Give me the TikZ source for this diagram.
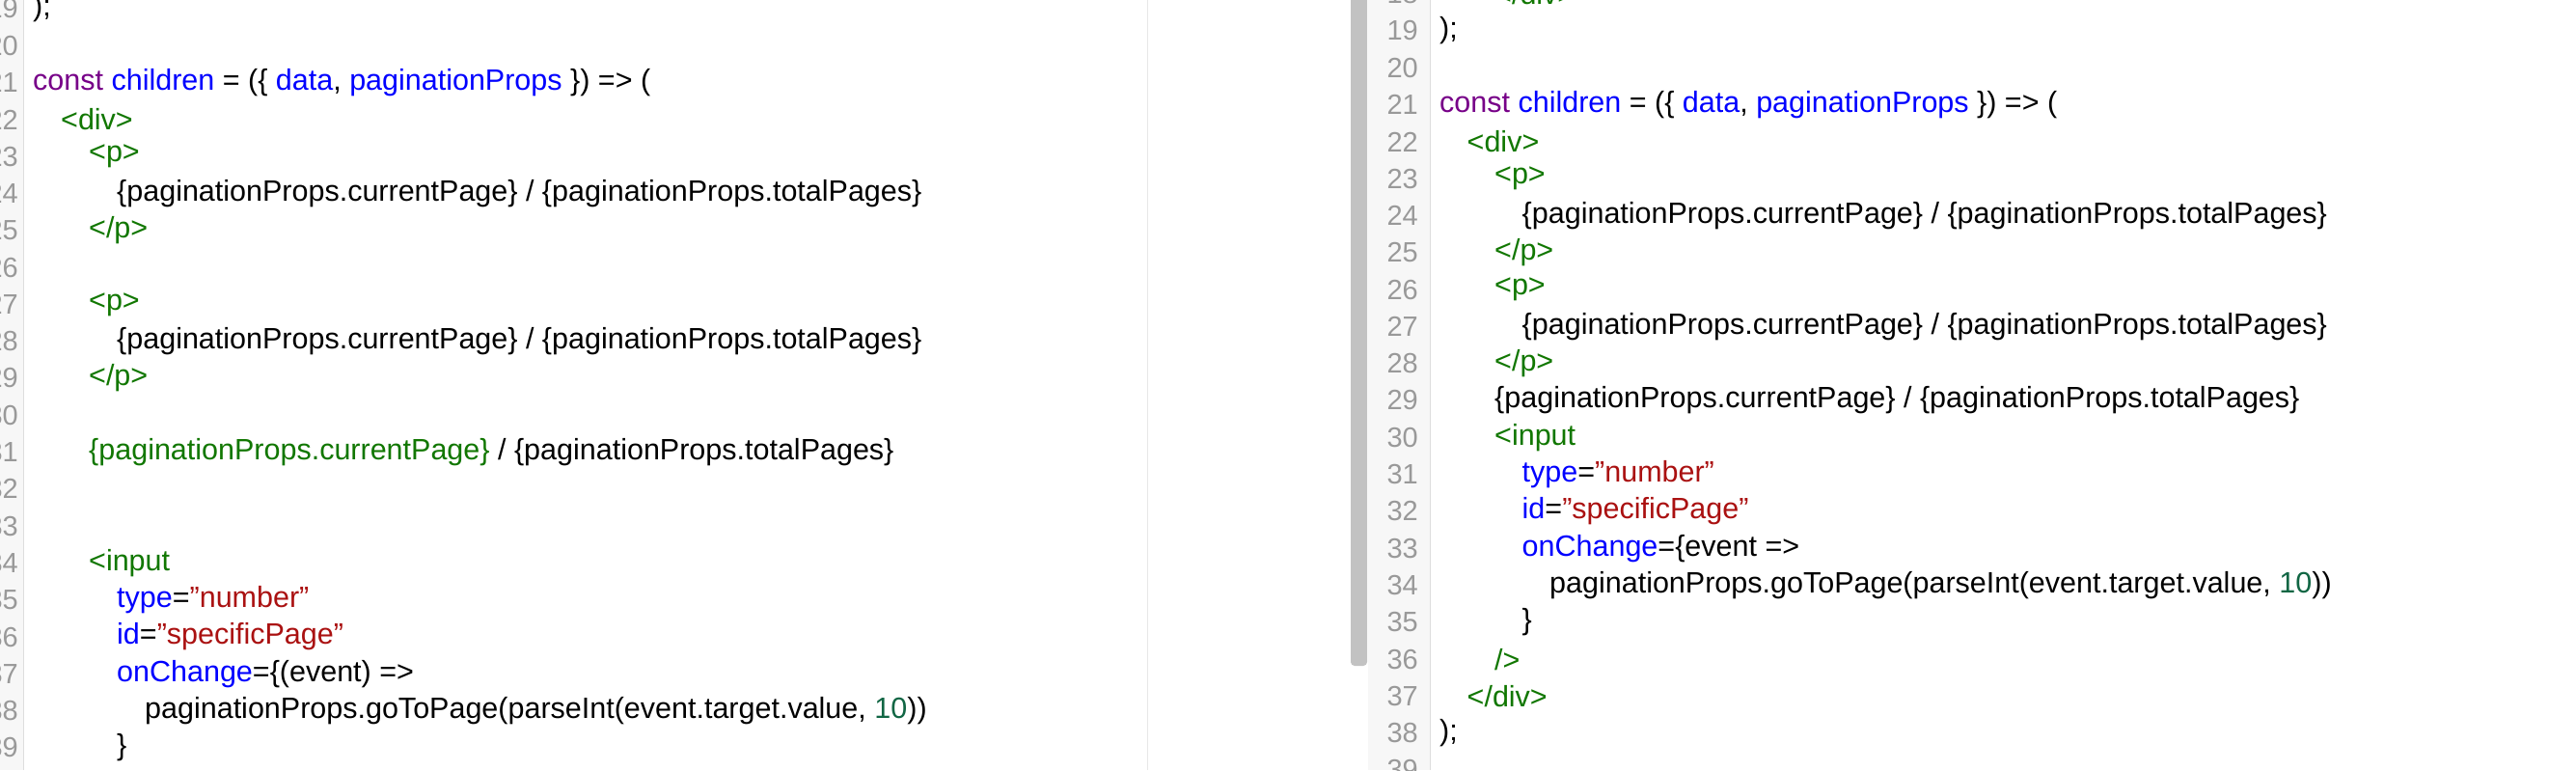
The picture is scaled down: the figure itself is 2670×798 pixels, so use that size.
\documentclass[tikz,border=0pt]{standalone}
\usepackage{fontspec}
\setmainfont{Liberation Sans}
\definecolor{kw}{HTML}{770088}
\definecolor{df}{HTML}{0000FF}
\definecolor{tg}{HTML}{117700}
\definecolor{st}{HTML}{AA1111}
\definecolor{nm}{HTML}{116644}
\definecolor{ln}{HTML}{999999}
\definecolor{gut}{HTML}{F7F7F7}
\definecolor{gbd}{HTML}{DDDDDD}
\newcommand{\K}[1]{\textcolor{kw}{#1}}
\newcommand{\D}[1]{\textcolor{df}{#1}}
\newcommand{\T}[1]{\textcolor{tg}{#1}}
\newcommand{\St}[1]{\textcolor{st}{\symbol{34}#1\symbol{34}}}
\newcommand{\N}[1]{\textcolor{nm}{#1}}
\newcommand{\PP}{\{paginationProps.currentPage\} / \{paginationProps.totalPages\}}
\tikzset{code/.style={anchor=west,inner sep=0pt,font=\fontsize{30.5}{34}\selectfont},
  num/.style={anchor=east,inner sep=0pt,text=ln,font=\fontsize{29}{34}\selectfont}}
\newcommand{\LL}[4]{\node[code] (L#1) at (34+29*#2, 9+38.3*#3) {#4};}
\newcommand{\RL}[4]{\node[code] (R#1) at (1492+28.5*#2, 32+38.3*#3) {#4};}
\begin{document}
\begin{tikzpicture}[x=1pt,y=-1pt]
\useasboundingbox (0,0) rectangle (2670,798);
\fill[white] (0,0) rectangle (2670,798);
\fill[gut] (0,0) rectangle (24,798);
\draw[gbd] (24,0) -- (24,798);
\draw[gbd!70] (1189,0) -- (1189,798);
\fill[gut] (1418,0) rectangle (1482,798);
\draw[gbd] (1482,0) -- (1482,798);
\fill[black!24, rounded corners=4pt] (1400,-10) rectangle (1417,690);
\foreach \n [count=\i from 0] in {19,...,39} {
  \node[num] (ln\n) at (19,9+38.3*\i) {\n};
}
\foreach \n [count=\i from -1] in {18,...,39} {
  \node[num] (rn\n) at (1470,32+38.3*\i) {\n};
}
\LL{19}{0}{0}{);}
\LL{21}{0}{2}{\K{const} \D{children} = (\{ \D{data}, \D{paginationProps} \}) => (}
\LL{22}{1}{3}{\T{<div>}}
\LL{23}{2}{4}{\T{<p>}}
\LL{24}{3}{5}{\PP}
\LL{25}{2}{6}{\T{</p>}}
\LL{27}{2}{8}{\T{<p>}}
\LL{28}{3}{9}{\PP}
\LL{29}{2}{10}{\T{</p>}}
\LL{31}{2}{12}{\T{\{paginationProps.currentPage\}} / \{paginationProps.totalPages\}}
\LL{34}{2}{15}{\T{<input}}
\LL{35}{3}{16}{\D{type}=\St{number}}
\LL{36}{3}{17}{\D{id}=\St{specificPage}}
\LL{37}{3}{18}{\D{onChange}=\{(event) =>}
\LL{38}{4}{19}{paginationProps.goToPage(parseInt(event.target.value, \N{10}))}
\LL{39}{3}{20}{\}}
\RL{18}{2}{-1}{\T{</div>}}
\RL{19}{0}{0}{);}
\RL{21}{0}{2}{\K{const} \D{children} = (\{ \D{data}, \D{paginationProps} \}) => (}
\RL{22}{1}{3}{\T{<div>}}
\RL{23}{2}{4}{\T{<p>}}
\RL{24}{3}{5}{\PP}
\RL{25}{2}{6}{\T{</p>}}
\RL{26}{2}{7}{\T{<p>}}
\RL{27}{3}{8}{\PP}
\RL{28}{2}{9}{\T{</p>}}
\RL{29}{2}{10}{\PP}
\RL{30}{2}{11}{\T{<input}}
\RL{31}{3}{12}{\D{type}=\St{number}}
\RL{32}{3}{13}{\D{id}=\St{specificPage}}
\RL{33}{3}{14}{\D{onChange}=\{event =>}
\RL{34}{4}{15}{paginationProps.goToPage(parseInt(event.target.value, \N{10}))}
\RL{35}{3}{16}{\}}
\RL{36}{2}{17}{\T{/>}}
\RL{37}{1}{18}{\T{</div>}}
\RL{38}{0}{19}{);}
\end{tikzpicture}
\end{document}
